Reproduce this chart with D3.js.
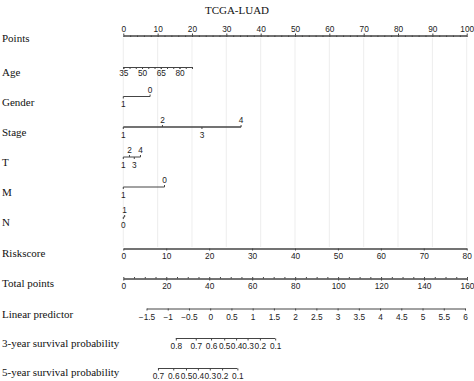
<!DOCTYPE html>
<html><head><meta charset="utf-8">
<script src="https://cdn.jsdelivr.net/npm/d3@7"></script>
<style>body{margin:0;background:#fff}svg{display:block}</style>
</head><body><svg id="c" width="474" height="381"></svg>
<script>
const title = "TCGA-LUAD";
const rowLabels = ["Points","Age","Gender","Stage","T","M","N","Riskscore","Total points","Linear predictor","3-year survival probability","5-year survival probability"];
const pointsLabels = [0,10,20,30,40,50,60,70,80,90,100];
const ageDomain = [35, 90];
const agePointsRange = [0, 20];
const ageLabels = [35, 50, 65, 80];
const ageTicks = [35,40,45,50,55,60,65,70,75,80,85,90];
const genderLevels = ["1","0"];
const genderPoints = [0, 7.8];
const stageLevels = ["1","2","3","4"];
const stagePoints = [0, 11.4, 22.9, 34.3];
const tLevels = ["1","2","3","4"];
const tPoints = [0, 1.8, 3.2, 5.0];
const mLevels = ["1","0"];
const mPoints = [0, 12];
const nLevels = ["0","1"];
const nPoints = [0, 0.4];
const riskDomain = [0, 80];
const riskPointsRange = [0, 100];
const riskLabels = [0,10,20,30,40,50,60,70,80];
const totalLabels = [0,20,40,60,80,100,120,140,160];
const lpLabels = [-1.5,-1,-0.5,0,0.5,1,1.5,2,2.5,3,3.5,4,4.5,5,5.5,6];
const surv3Labels = ["0.8","0.7","0.6","0.5","0.4","0.3","0.2","0.1"];
const surv3LP = [-0.81,-0.34,0.02,0.33,0.61,0.88,1.17,1.53];
const surv5Labels = ["0.7","0.6","0.5","0.4","0.3","0.2","0.1"];
const surv5LP = [-1.23,-0.87,-0.57,-0.29,-0.01,0.28,0.64];

const svg = d3.select("#c");
const X0 = 123.3, X1 = 466.7;
const xP = d3.scaleLinear().domain([0,100]).range([X0, X1]);
const xT = d3.scaleLinear().domain([0,160]).range([X0, 467]);
const xL = d3.scaleLinear().domain([-1.5,6]).range([146.5, 465]);
const ageToPts = d3.scaleLinear().domain(ageDomain).range(agePointsRange);
const riskToPts = d3.scaleLinear().domain(riskDomain).range(riskPointsRange);
const yLine = [35.5, 67, 96.5, 127, 157, 187, 217, 248.5, 278.5, 308.5, 338.5, 368.5];
const yLabel = [42, 76, 106, 136, 166, 196, 226, 257, 287, 317.5, 347, 376];

const lineCol = "#444", txtCol = "#222";
const serif = "'Liberation Serif', 'Times New Roman', serif";
const sans = "'Liberation Sans', Arial, sans-serif";
const tickFs = 8.3;

// title
svg.append("text").attr("x", 237).attr("y", 14).attr("text-anchor","middle")
  .attr("font-family", serif).attr("font-size", 11).attr("fill", "#111").text(title);

// grid lines
svg.append("g").selectAll("line").data(pointsLabels).join("line")
  .attr("x1", d=>xP(d)).attr("x2", d=>xP(d)).attr("y1", 38).attr("y2", 247)
  .attr("stroke", "#e8e8e8").attr("stroke-width", 0.8);

// row labels
svg.append("g").selectAll("text").data(rowLabels).join("text")
  .attr("x", 2).attr("y", (d,i)=>yLabel[i])
  .attr("font-family", serif).attr("font-size", 11).attr("fill", "#111").text(d=>d);

function styleAxis(g, sw){
  g.select(".domain").attr("stroke", lineCol).attr("stroke-width", sw||1);
  g.selectAll(".tick line").attr("stroke", lineCol);
  g.selectAll(".tick text").attr("fill", txtCol).attr("font-family", sans).attr("font-size", tickFs);
}

// Points axis
{
  const g = svg.append("g").attr("transform", `translate(0,${yLine[0]})`)
    .call(d3.axisTop(xP).tickValues(pointsLabels).tickSize(2).tickSizeOuter(0).tickPadding(2));
  styleAxis(g);
  const m = svg.append("g").attr("transform", `translate(0,${yLine[0]})`)
    .call(d3.axisBottom(xP).tickValues(d3.range(0,101,2)).tickSize(1.5).tickSizeOuter(0).tickFormat(""));
  styleAxis(m);
}
// Age
{
  const sc = d3.scaleLinear().domain(ageDomain).range([xP(ageToPts(ageDomain[0])), xP(ageToPts(ageDomain[1]))]);
  const g = svg.append("g").attr("transform", `translate(0,${yLine[1]})`)
    .call(d3.axisBottom(sc).tickValues(ageLabels).tickSize(2).tickSizeOuter(0).tickPadding(1.5));
  styleAxis(g);
  const m = svg.append("g").attr("transform", `translate(0,${yLine[1]})`)
    .call(d3.axisBottom(sc).tickValues(ageTicks).tickSize(2).tickSizeOuter(0).tickFormat(""));
  styleAxis(m);
}
// categorical rows
function catRow(levels, pts, y, sw){
  const g = svg.append("g");
  const xs = pts.map(p=>xP(p));
  g.append("line").attr("x1", d3.min(xs)).attr("x2", d3.max(xs)).attr("y1", y).attr("y2", y)
    .attr("stroke", lineCol).attr("stroke-width", sw||1);
  g.selectAll("line.t").data(levels).join("line").attr("class","t")
    .attr("x1",(d,i)=>xs[i]).attr("x2",(d,i)=>xs[i])
    .attr("y1",(d,i)=> i%2 ? y-2 : y).attr("y2",(d,i)=> i%2 ? y : y+2)
    .attr("stroke", lineCol);
  g.selectAll("text").data(levels).join("text")
    .attr("x",(d,i)=>xs[i]).attr("y",(d,i)=> i%2 ? y-4 : y+10.5)
    .attr("text-anchor","middle").attr("font-family", sans).attr("font-size", tickFs).attr("fill", txtCol)
    .text(d=>d);
}
catRow(genderLevels, genderPoints, yLine[2]);
catRow(stageLevels, stagePoints, yLine[3], 1.5);
catRow(tLevels, tPoints, yLine[4]);
catRow(mLevels, mPoints, yLine[5]);
catRow(nLevels, nPoints, yLine[6]);

// Riskscore
{
  const sc = d3.scaleLinear().domain(riskDomain).range([xP(riskToPts(riskDomain[0])), xP(riskToPts(riskDomain[1]))]);
  const g = svg.append("g").attr("transform", `translate(0,${yLine[7]})`)
    .call(d3.axisBottom(sc).tickValues(riskLabels).tickSize(2).tickSizeOuter(0).tickPadding(2.5));
  styleAxis(g, 1.5);
}
// Total points
{
  const g = svg.append("g").attr("transform", `translate(0,${yLine[8]})`)
    .call(d3.axisBottom(xT).tickValues(totalLabels).tickSize(2).tickSizeOuter(0).tickPadding(2.5));
  styleAxis(g);
  const m = svg.append("g").attr("transform", `translate(0,${yLine[8]})`)
    .call(d3.axisTop(xT).tickValues(d3.range(0,161,5)).tickSize(1.5).tickSizeOuter(0).tickFormat(""));
  styleAxis(m);
}
// Linear predictor
{
  const g = svg.append("g").attr("transform", `translate(0,${yLine[9]})`)
    .call(d3.axisBottom(xL).tickValues(lpLabels).tickSize(2).tickSizeOuter(0).tickPadding(3.5).tickFormat(d3.format("")));
  styleAxis(g);
  g.selectAll(".tick text").text(d => String(d).replace("-", "\u2212"));
}
// survival rows
function survRow(labels, lps, y){
  const g = svg.append("g").attr("transform", `translate(0,${y})`)
    .call(d3.axisBottom(xL).tickValues(lps).tickSize(2).tickSizeOuter(0).tickPadding(2.5)
      .tickFormat((d,i)=>labels[i]));
  styleAxis(g);
  g.select(".domain").attr("d", `M${xL(d3.min(lps))},0H${xL(d3.max(lps))}`);
}
survRow(surv3Labels, surv3LP, yLine[10]);
survRow(surv5Labels, surv5LP, yLine[11]);
</script></body></html>
